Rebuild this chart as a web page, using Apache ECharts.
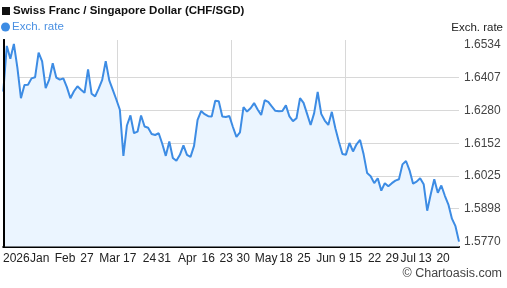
<!DOCTYPE html>
<html>
<head>
<meta charset="utf-8">
<script src="https://cdn.jsdelivr.net/npm/echarts@6/dist/echarts.min.js"></script>
<style>
  html, body { margin: 0; padding: 0; background: #fff; }
  #chart { width: 507px; height: 288px; }
</style>
</head>
<body>
<div id="chart"></div>
<script>
// CHF/SGD daily rate, one value per business day
const rates = [
  1.6353, 1.6530, 1.6480, 1.6538, 1.6445, 1.6327, 1.6378, 1.6379, 1.6404, 1.6408,
  1.6504, 1.6470, 1.6366, 1.6399, 1.6463, 1.6407, 1.6399, 1.6404, 1.6370, 1.6327,
  1.6354, 1.6373, 1.6360, 1.6348, 1.6439, 1.6344, 1.6334, 1.6364, 1.6398, 1.6471,
  1.6396, 1.6359, 1.6322, 1.6282, 1.6103, 1.6221, 1.6260, 1.6191, 1.6197, 1.6260,
  1.6217, 1.6212, 1.6188, 1.6184, 1.6191, 1.6150, 1.6103, 1.6159, 1.6095, 1.6084,
  1.6107, 1.6144, 1.6107, 1.6099, 1.6142, 1.6243, 1.6277, 1.6265, 1.6257, 1.6256,
  1.6317, 1.6315, 1.6256, 1.6254, 1.6258, 1.6215, 1.6177, 1.6194, 1.6292, 1.6275,
  1.6288, 1.6308, 1.6283, 1.6262, 1.6319, 1.6313, 1.6295, 1.6278, 1.6276, 1.6277,
  1.6299, 1.6256, 1.6238, 1.6249, 1.6327, 1.6309, 1.6266, 1.6223, 1.6269, 1.6351,
  1.6266, 1.6240, 1.6223, 1.6274, 1.6210, 1.6158, 1.6110, 1.6107, 1.6153, 1.6120,
  1.6148, 1.6165, 1.6109, 1.6036, 1.6024, 1.5997, 1.6016, 1.5968, 1.5997, 1.5985,
  1.5997, 1.6007, 1.6012, 1.6070, 1.6083, 1.6047, 1.5995, 1.6003, 1.6016, 1.5993,
  1.5890, 1.5954, 1.6012, 1.5960, 1.5988, 1.5948, 1.5914, 1.5859, 1.5830, 1.5770
];

// date labels under the x axis and the day index they sit at
const xTickLabels = ['2026', 'Jan', 'Feb', '27', 'Mar', '17', '24', '31', 'Apr', '16', '23', '30',
  'May', '18', '25', 'Jun', '9', '15', '22', '29', 'Jul', '13', '20'];
const xTickAt = [3.7, 10.3, 17.5, 23.7, 30.1, 35.8, 41.4, 45.6, 52.1, 58, 63.1, 67.9,
  74.4, 80, 85.1, 91.3, 96, 99.7, 105.1, 110.1, 114.6, 119.4, 124.5];

const yTickLabels = ['1.5770', '1.5898', '1.6025', '1.6152', '1.6280', '1.6407', '1.6534'];

const lastIdx = rates.length - 1;
const yTicks = yTickLabels.map(Number);
const font = "'Liberation Sans', Arial, sans-serif";

const myChart = echarts.init(document.getElementById('chart'));
myChart.setOption({
  animation: false,
  backgroundColor: '#fff',
  title: {
    text: 'Swiss Franc / Singapore Dollar (CHF/SGD)',
    left: 13,
    top: 5,
    padding: 0,
    textStyle: { fontFamily: font, fontSize: 11.5, fontWeight: 'bold', color: '#111' }
  },
  legend: {
    data: ['Exch. rate'],
    left: 1,
    top: 21,
    padding: 0,
    icon: 'circle',
    itemWidth: 9,
    itemHeight: 9,
    itemGap: 2,
    textStyle: { fontFamily: font, fontSize: 11.5, color: '#4a90e2', padding: [0, 0, 0, -3] }
  },
  graphic: [
    { type: 'rect', shape: { x: 2, y: 7, width: 8, height: 8 }, style: { fill: '#111' } },
    {
      type: 'text',
      style: { text: 'Exch. rate', x: 503, y: 28, textAlign: 'right', textVerticalAlign: 'middle',
        font: '11.5px ' + font, fill: '#222' }
    },
    {
      type: 'text',
      style: { text: '© Chartoasis.com', x: 502, y: 274, textAlign: 'right', textVerticalAlign: 'middle',
        font: '12.5px ' + font, fill: '#444' }
    }
  ],
  grid: { left: 1, right: 48, top: 40, bottom: 41.5 },
  xAxis: {
    type: 'value',
    min: 0,
    max: lastIdx,
    axisLine: { show: true, lineStyle: { color: '#000', width: 2 } },
    axisTick: { show: false, customValues: [lastIdx / 4, lastIdx / 2, lastIdx * 3 / 4] },
    splitLine: { show: true, lineStyle: { color: '#d8d8d8', width: 1 } },
    axisLabel: {
      customValues: xTickAt,
      hideOverlap: false,
      margin: 6,
      fontFamily: font,
      fontSize: 12,
      color: '#222',
      formatter: (v) => {
        let best = 0;
        xTickAt.forEach((p, i) => { if (Math.abs(p - v) < Math.abs(xTickAt[best] - v)) best = i; });
        return xTickLabels[best];
      }
    }
  },
  yAxis: [
    {
      type: 'value',
      position: 'right',
      min: 1.5751,
      max: 1.6553,
      axisLine: { show: true, lineStyle: { color: '#000', width: 2 } },
      axisTick: { show: false, customValues: yTicks.slice(1, -1) },
      splitLine: { show: true, lineStyle: { color: '#d8d8d8', width: 1 } },
      axisLabel: {
        customValues: yTicks,
        margin: 5,
        fontFamily: font,
        fontSize: 12,
        color: '#444',
        formatter: (v) => v.toFixed(4)
      }
    },
    {
      // plain black edge on the left side
      type: 'value',
      position: 'left',
      z: 5,
      min: 1.5751,
      max: 1.6553,
      axisLine: { show: true, lineStyle: { color: '#000', width: 2 } },
      axisTick: { show: false },
      axisLabel: { show: false },
      splitLine: { show: false }
    }
  ],
  series: [
    {
      name: 'Exch. rate',
      type: 'line',
      data: rates.map((v, i) => [i, v]),
      showSymbol: false,
      symbol: 'none',
      color: '#3d8ce4',
      lineStyle: { color: '#3d8ce4', width: 2 },
      areaStyle: { color: '#ebf5ff', origin: 'start', opacity: 1 }
    }
  ]
});
</script>
</body>
</html>
